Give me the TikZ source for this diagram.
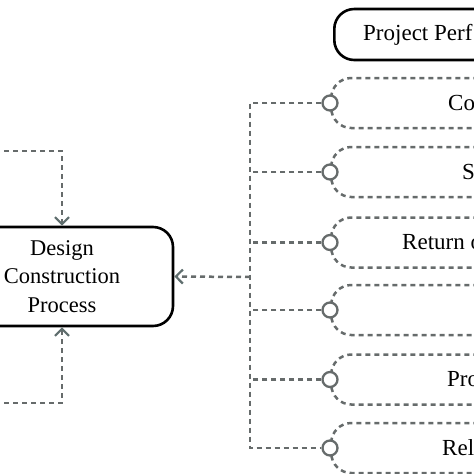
\documentclass[tikz,border=0pt]{standalone}
\usepackage{fontspec}
\setmainfont{Liberation Serif}
\usetikzlibrary{arrows.meta}
\definecolor{dashgray}{HTML}{666B6B}
\definecolor{tipgray}{HTML}{5F6E6E}
\tikzset{
  dline/.style={draw=dashgray, line width=2.5pt, dash pattern=on 5pt off 4pt},
  arr/.style={dline, -{Straight Barb[length=7pt,width=14pt,line width=2.2pt,color=tipgray]}},
  solidbox/.style={draw=black, line width=2.6pt, rounded corners=20pt, fill=white},
  branchbox/.style={dline, rounded corners=20pt, minimum height=50pt, minimum width=320pt, anchor=west, inner sep=0pt},
  knob/.style={circle, draw=dashgray, line width=2.3pt, fill=white, minimum size=15pt, inner sep=0pt},
  lbl/.style={anchor=west, inner sep=0pt, font=\fontsize{23}{28}\selectfont},
}
\begin{document}
\begin{tikzpicture}[x=1pt,y=-1pt]
\useasboundingbox (0,0) rectangle (474,474);
\clip (0,0) rectangle (474,474);
% main process box
\node[solidbox, minimum width=222pt, minimum height=99pt, align=center,
      font=\fontsize{22.5}{28.5}\selectfont] (design) at (62,276.5)
      {Design\\Construction\\Process};
% incoming arrows from left
\coordinate (tl) at (-5,151);
\coordinate (bl) at (-5,403);
\draw[arr] (tl) -| (design.north);
\draw[arr] (bl) -| (design.south);
% project performance box
\node[solidbox, minimum width=320pt, minimum height=51pt, anchor=west] (proj) at (333,34.5) {};
\node[lbl] (projt) at (363,34.5) {Project Perf};
% branch boxes
\foreach \n/\y in {1/103, 2/172, 3/242.5, 4/310, 5/379.5, 6/448} {
  \node[branchbox] (b\n) at (330,\y) {};
  \node[knob] (c\n) at (b\n.west) {};
}
\node[lbl] (t1) at (448,103) {Co};
\node[lbl] (t2) at (462,172) {S};
\node[lbl] (t3) at (402,242.5) {Return o};
\node[lbl] (t5) at (447,379.5) {Pro};
\node[lbl] (t6) at (442,448) {Rela};
% bus
\coordinate (bus) at (250,277);
\draw[dline] (c1.west) -| (bus) |- (c6.west);
\foreach \n in {2,3,4,5} { \draw[dline] (c\n.west) -- (c\n.west -| bus); }
\draw[arr] (bus) -- (design.east);
\end{tikzpicture}
\end{document}
